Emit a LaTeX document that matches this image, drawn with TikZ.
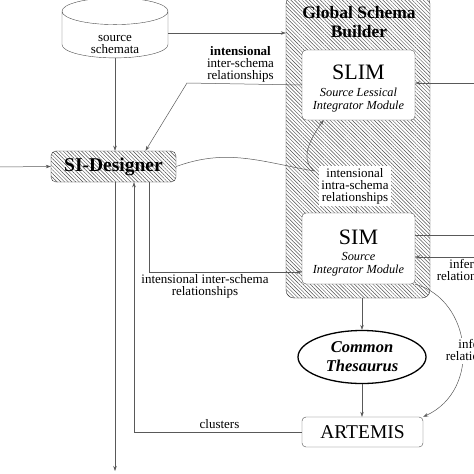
\documentclass[tikz,border=0pt]{standalone}
\usepackage{fontspec}
\setmainfont{Liberation Serif}
\usetikzlibrary{shapes.geometric,arrows.meta,patterns.meta,positioning,calc}

\tikzset{
  hatched/.style={draw=black!80, pattern={Lines[angle=-45,distance=2.6pt,line width=0.45pt]}, pattern color=black!70},
  module/.style={draw=black!70, fill=white, rounded corners=4pt, minimum width=113pt, minimum height=70pt},
  flow/.style={draw=black!65, line width=0.5pt, -{Stealth[length=5pt,width=3.5pt]}},
  plain/.style={draw=black!65, line width=0.5pt},
  lbl/.style={font=\fontsize{13}{12}\selectfont, align=center, inner sep=1pt},
  bigname/.style={font=\fontsize{22}{22}\selectfont},
  subname/.style={font=\fontsize{12.3}{13}\selectfont\itshape, align=center},
}

\begin{document}
\begin{tikzpicture}[x=1pt,y=-1pt]
    \useasboundingbox (0,0) rectangle (474,474);

    % Source and designer
    \node[cylinder, shape border rotate=90, draw=black!70, aspect=4, minimum width=106pt, minimum height=60pt] (src) at (115,37) {};
    \node[lbl] (srctext) at (115,44) {source\\schemata};
    \node[hatched, rounded corners=5pt, minimum width=125pt, minimum height=31pt, font=\fontsize{19.5}{20}\selectfont\bfseries] (sid) at (113.5,166.5) {SI-Designer};

    % Global Schema Builder
    \node[hatched, rounded corners=8pt, minimum width=144pt, minimum height=302pt] (gsb) at (358,147) {};
    \node[font=\fontsize{17.5}{19}\selectfont\bfseries, align=center] (gsbtitle) at (359,22.5) {Global Schema\\Builder};

    \node[module] (slim) at (358.5,85) {};
    \node[bigname] (slimname) at (358.5,72) {SLIM};
    \node[subname] (slimsub) at (358.5,100.5) {Source Lessical\\Integrator Module};

    \node[lbl, fill=white, inner sep=2pt] (intra) at (355,186) {intensional\\intra-schema\\relationships};

    \node[module, minimum height=71pt] (sim) at (358.5,248.5) {};
    \node[bigname] (simname) at (358.5,237) {SIM};
    \node[subname] (simsub) at (358.5,264) {Source\\Integrator Module};

    % Thesaurus and clustering
    \node[ellipse, draw=black, line width=1.3pt, minimum width=128pt, minimum height=53pt, font=\fontsize{16.5}{19}\selectfont\bfseries\itshape, align=center] (thes) at (362,357) {Common\\Thesaurus};
    \node[draw=black!70, rounded corners=4pt, minimum width=121pt, minimum height=30pt, font=\fontsize{19.5}{20}\selectfont] (art) at (362.5,432) {ARTEMIS};

    % Free ends
    \coordinate (inL) at (-5,167);
    \coordinate (outB) at (115,471);
    \coordinate (inSlim) at (480,83);
    \coordinate (outSim) at (480,235);
    \coordinate (inSim) at (480,257);
    \coordinate (bend) at (187,83);
    \coordinate (via) at (314,171);

    % Flows
    \draw[flow] (inL) -- (sid.west);
    \draw[flow] (src.south) -- (src.south |- sid.north);
    \draw[flow] ([yshift=4pt]src.east) -- ([yshift=4pt]src.east -| gsb.west);
    \draw[flow] (slim.west) -- (bend) -- ([xshift=32pt]sid.north);
    \node[lbl] (lblslim) at (240.5,64) {\textbf{intensional}\\inter-schema\\relationships};
    \draw[flow] (inSlim) -- (inSlim -| slim.east);
    \draw[flow] (sid.east) to[out=20,in=170] (via) to[out=140,in=235] ([xshift=-35pt]slim.south);
    \draw[plain] (intra) -- (sim);
    \draw[plain] (sim.east |- outSim) -- (outSim);
    \draw[flow] (inSim) -- (inSim -| sim.east);
    \node[lbl] (lblinf) at (470,271) {inferred\\relationships};

    \draw[flow] ([xshift=35.5pt]sid.south) |- ([yshift=-23.5pt]sim.west);
    \node[lbl] (lblsim) at (205,286) {intensional inter-schema\\relationships};
    \draw[flow] (outB |- sid.south) -- (outB);

    \draw[flow] (thes.north |- gsb.south) -- (thes.north);
    \draw[flow] (thes.south) -- (thes.south |- art.north);
    \draw[flow] (sim.south east) .. controls (472,300) and (482,390) .. (art.north east);
    \node[lbl, fill=white] (lblinf2) at (479,351) {inferred\\relationships};

    \draw[flow] (art.west) -| ([xshift=20.5pt]sid.south);
    \node[lbl] (lblclus) at (219.5,424) {clusters};
\end{tikzpicture}
\end{document}
